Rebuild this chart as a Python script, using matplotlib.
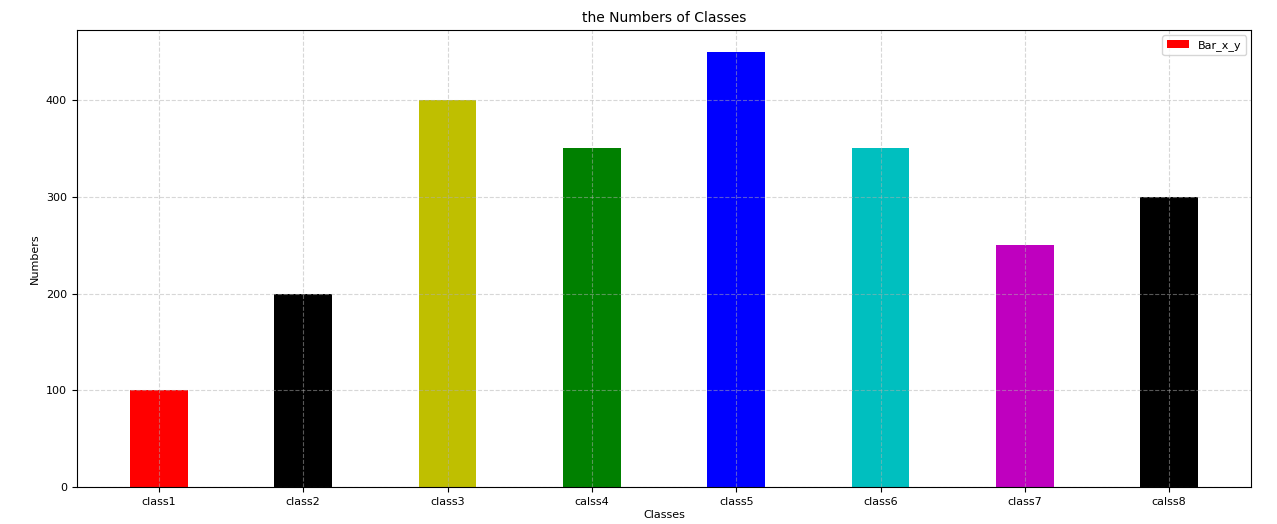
import matplotlib
matplotlib.use("Agg")
import matplotlib.pyplot as plt

classes = ["class1", "class2", "class3", "calss4", "class5", "class6", "class7", "calss8"]
numbers = [100, 200, 400, 350, 450, 350, 250, 300]
colors = ["r", "k", "y", "g", "b", "c", "m", "k"]

plt.rcParams["font.size"] = 8

fig = plt.figure(figsize=(12.77, 5.24), dpi=100)
ax = fig.add_axes([0.060, 0.0706, 0.920, 0.8724])
ax.bar(classes, numbers, width=0.4, color=colors, label="Bar_x_y")
ax.grid(True, linestyle="--", alpha=0.5)
ax.set_title("the Numbers of Classes", fontsize=10)
ax.set_xlabel("Classes", labelpad=2)
ax.set_ylabel("Numbers")
ax.legend(loc="upper right")
fig.savefig("out.png")
